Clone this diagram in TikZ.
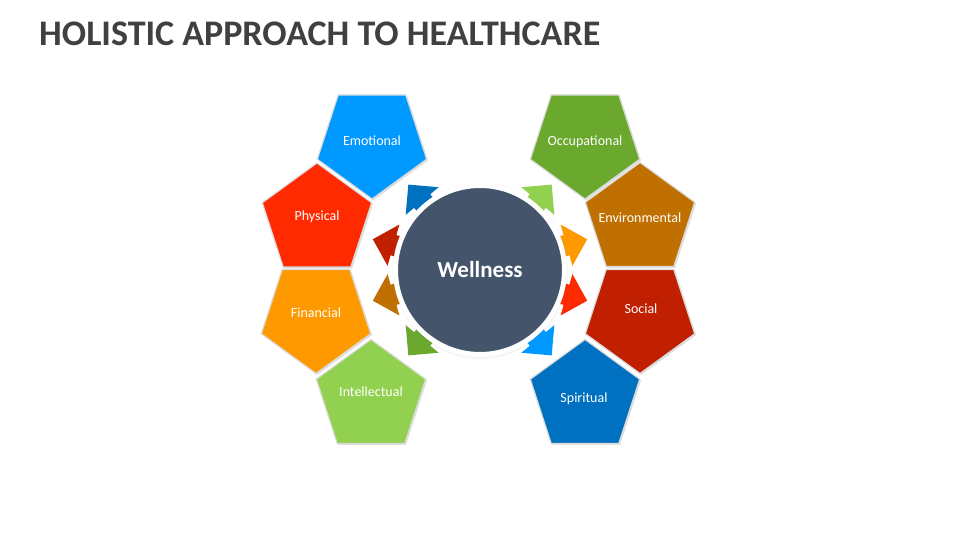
\documentclass[tikz,border=0pt]{standalone}
\usepackage{fontspec}
\setmainfont{Carlito}
\usetikzlibrary{shapes.geometric,shadows}
\definecolor{titlegray}{HTML}{404040}
\definecolor{cEmo}{HTML}{0099FF}
\definecolor{cPhy}{HTML}{FF2A00}
\definecolor{cFin}{HTML}{FF9900}
\definecolor{cInt}{HTML}{92D050}
\definecolor{cOcc}{HTML}{6AA82E}
\definecolor{cEnv}{HTML}{C07000}
\definecolor{cSoc}{HTML}{C01F00}
\definecolor{cSpi}{HTML}{0070C0}
\definecolor{wellfill}{HTML}{44546A}
\begin{document}
\begin{tikzpicture}[x=1pt,y=1pt,
  penta/.style={regular polygon, regular polygon sides=5, minimum size=115pt,
    inner sep=0pt, outer sep=0pt, draw=black!14, line width=1.2pt,
    drop shadow={shadow xshift=1.3pt, shadow yshift=-1.3pt, opacity=.25}},
  pup/.style={penta},
  pdown/.style={penta, shape border rotate=180},
  lbl/.style={font=\fontsize{14}{16}\selectfont, text=white, anchor=base, inner sep=0pt},
  wellstyle/.style={circle, minimum size=169pt, inner sep=0pt, fill=wellfill,
    draw=white, line width=5pt, text=white,
    font=\bfseries\fontsize{23}{26}\selectfont,
    circular drop shadow={shadow scale=1.05, shadow xshift=0pt, shadow yshift=-0.5pt, opacity=.45}},
  titlestyle/.style={anchor=base west, inner sep=0pt, text=titlegray,
    font=\bfseries\fontsize{36}{40}\selectfont}
]
\useasboundingbox (0,0) rectangle (960,540);
\fill[white] (0,0) rectangle (960,540);

\node[titlestyle] (title) at (39,494.5) {HOLISTIC APPROACH TO HEALTHCARE};

% pentagons
\node[pdown, fill=cEmo] (pEmo) at (372,398.5) {};
\node[pup,   fill=cPhy] (pPhy) at (317,319.5) {};
\node[pdown, fill=cFin] (pFin) at (316,224) {};
\node[pup,   fill=cInt] (pInt) at (371,143) {};
\node[pdown, fill=cOcc] (pOcc) at (585,398.5) {};
\node[pup,   fill=cEnv] (pEnv) at (640,320) {};
\node[pdown, fill=cSoc] (pSoc) at (640,224) {};
\node[pup,   fill=cSpi] (pSpi) at (585,143) {};

% labels
\node[lbl] (tEmo) at (372,394) {Emotional};
\node[lbl] (tPhy) at (317,319.3) {Physical};
\node[lbl] (tFin) at (316,222.7) {Financial};
\node[lbl] (tInt) at (371,143.3) {Intellectual};
\node[lbl] (tOcc) at (585,394.3) {Occupational};
\node[lbl] (tEnv) at (640,317.7) {Environmental};
\node[lbl] (tSoc) at (641,226.7) {Social};
\node[lbl] (tSpi) at (584,137.7) {Spiritual};

% arrows
\coordinate (w) at (480,270);
\foreach \ang/\col in {130/cSpi, 164/cSoc, 196/cEnv, 230/cOcc, 50/cInt, 16/cFin, -16/cPhy, -50/cEmo}{
  \begin{scope}[shift={(w)}, rotate=\ang]
    \fill[\col] (111.5,0) -- (90,21.5) -- (90,10.5) -- (60,10.5) -- (60,-10.5)
      -- (90,-10.5) -- (90,-21.5) -- cycle;
  \end{scope}
}

% centre circle
\node[wellstyle] (well) at (w) {Wellness};
\end{tikzpicture}
\end{document}
